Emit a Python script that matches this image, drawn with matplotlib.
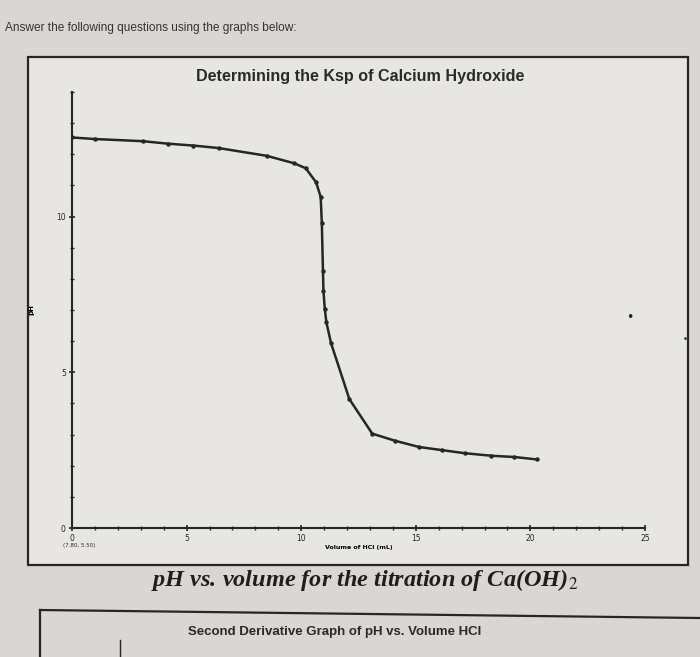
import matplotlib.pyplot as plt
from matplotlib.patches import Rectangle
from matplotlib.ticker import MultipleLocator
import matplotlib as mpl

volume_ml = [0, 1.0, 3.1, 4.2, 5.3, 6.4, 8.5, 9.7, 10.2, 10.65, 10.85, 10.9, 10.95,
             10.97, 11.03, 11.1, 11.3, 12.1, 13.1, 14.1, 15.15, 16.15, 17.15, 18.3,
             19.3, 20.3]
ph_values = [12.54, 12.49, 12.42, 12.34, 12.28, 12.20, 11.95, 11.71, 11.55, 11.1,
             10.63, 9.79, 8.24, 7.62, 7.03, 6.6, 5.94, 4.14, 3.03, 2.8, 2.6, 2.5,
             2.4, 2.32, 2.28, 2.2]

x_ticks = [0, 5, 10, 15, 20, 25]
y_ticks = [0, 5, 10]

mpl.rcParams['mathtext.fontset'] = 'stix'

bg_color = '#dad6d4'
paper_color = '#e8e6e2'
ink = '#262626'

fig = plt.figure(figsize=(7, 6.57), dpi=100, facecolor=bg_color)

# Texto superior
fig.text(5 / 700, 1 - 28 / 657, "Answer the following questions using the graphs below:",
         fontsize=8.6, family='Liberation Sans', color='#333333', va='center', ha='left')

# Marco del gráfico
frame = Rectangle((28 / 700, 1 - 565 / 657), 660 / 700, 508 / 657, transform=fig.transFigure,
                  facecolor=paper_color, edgecolor=ink, linewidth=1.6, zorder=-5)
fig.patches.append(frame)

fig.text(360 / 700, 1 - 76 / 657, "Determining the Ksp of Calcium Hydroxide",
         fontsize=11.6, family='Liberation Sans', fontweight='bold', color='#2a2a2a',
         ha='center', va='center')

# Ejes del gráfico
ax = fig.add_axes([72 / 700, 1 - 528 / 657, 573 / 700, 436 / 657], zorder=2)
ax.set_facecolor('none')
ax.plot(volume_ml, ph_values, color=ink, linewidth=1.8, marker='o', markersize=2.2,
        markerfacecolor=ink, markeredgecolor=ink)
ax.set_xlim(0, 25)
ax.set_ylim(0, 14)
for side in ['top', 'right']:
    ax.spines[side].set_visible(False)
for side in ['left', 'bottom']:
    ax.spines[side].set_color(ink)
    ax.spines[side].set_linewidth(1.5)
ax.set_xticks(x_ticks)
ax.set_yticks(y_ticks)
ax.xaxis.set_minor_locator(MultipleLocator(1))
ax.yaxis.set_minor_locator(MultipleLocator(1))
ax.tick_params(which='major', direction='inout', length=5, width=1.2, colors=ink,
               labelsize=5.5, pad=2)
ax.tick_params(which='minor', direction='inout', length=3, width=1.0, colors=ink)
ax.set_ylabel("pH", fontsize=5, fontweight='bold', labelpad=16)
ax.set_xlabel("Volume of HCl (mL)", fontsize=4.5, fontweight='bold', labelpad=1)
ax.text(-0.4, -0.55, "(7.80, 5.50)", fontsize=4, ha='left', va='center', color=ink,
        clip_on=False)

# Marcas sueltas de la foto
fig.text(630 / 700, 1 - 318 / 657, "\u2022", fontsize=9, color='#222222', ha='center', va='center')
fig.text(685 / 700, 1 - 340 / 657, "\u2022", fontsize=6, color='#222222', ha='center', va='center')

# Pie de figura
fig.text(365 / 700, 1 - 580 / 657, r"pH vs. volume for the titration of Ca(OH)$_2$",
         fontsize=17.5, family='Liberation Serif', fontweight='bold', fontstyle='italic',
         color='#1e1e1e', ha='center', va='center')

# Segundo gráfico (cortado)
fig.add_artist(plt.Line2D([40 / 700, 1.0], [1 - 610 / 657, 1 - 618 / 657],
                          transform=fig.transFigure, color=ink, linewidth=1.6))
fig.add_artist(plt.Line2D([40 / 700, 40 / 700], [1 - 610 / 657, 0],
                          transform=fig.transFigure, color=ink, linewidth=1.6))
fig.add_artist(plt.Line2D([120 / 700, 120 / 700], [1 - 640 / 657, 0],
                          transform=fig.transFigure, color=ink, linewidth=1.0))
fig.text(335 / 700, 1 - 632 / 657, "Second Derivative Graph of pH vs. Volume HCl",
         fontsize=9.5, family='Liberation Sans', fontweight='bold', color='#2a2a2a',
         ha='center', va='center')

fig.savefig("out.png", dpi=100, facecolor=bg_color)
